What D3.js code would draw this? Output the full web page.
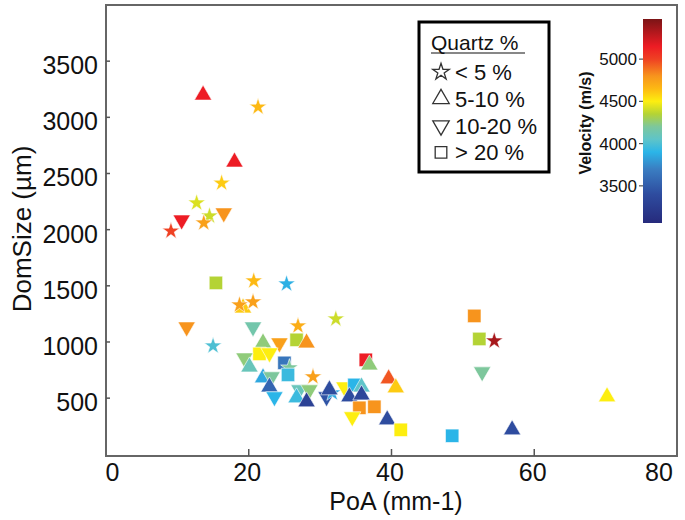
<!DOCTYPE html>
<html>
<head>
<meta charset="utf-8">
<script src="https://cdn.jsdelivr.net/npm/d3@7"></script>
<style>
body { margin: 0; background: #fff; }
text { font-family: "Liberation Sans", Arial, sans-serif; fill: #111; }
</style>
</head>
<body>
<svg id="chart" width="685" height="520"></svg>
<script>
// values
const poa = [13.6, 21.3, 18.0, 16.2, 12.7, 10.6, 14.5, 16.5, 13.7, 9.1,
    15.4, 20.7, 25.3, 19.2, 18.7, 20.6, 11.3, 20.6, 15.0, 26.9,
    22.0, 24.3, 26.7, 28.1, 32.2, 21.5, 22.9, 19.4, 20.1, 25.0,
    25.7, 25.5, 22.0, 23.2, 22.9, 23.6, 29.0, 27.1, 28.5, 26.7,
    28.1, 30.9, 31.7, 31.3, 33.4, 34.8, 35.8, 34.1, 35.8, 35.5,
    37.6, 34.5, 36.4, 36.9, 39.6, 40.6, 39.4, 41.3, 51.6, 52.3,
    54.4, 52.7, 70.2, 56.9, 48.5];
const domSize = [3198, 3092, 2602, 2415, 2238, 2086, 2122, 2149, 2060, 1988,
    1526, 1544, 1517, 1303, 1330, 1357, 1134, 1134, 965, 1143,
    992, 992, 1019, 992, 1205, 894, 903, 858, 778, 814,
    770, 707, 681, 690, 600, 512, 690, 574, 574, 503,
    467, 512, 547, 574, 600, 618, 600, 512, 529, 414,
    423, 334, 841, 796, 672, 592, 307, 218, 1232, 1027,
    1010, 734, 512, 218, 165];
const velocity = [5150, 4650, 5150, 4600, 4430, 5150, 4400, 4800, 4750, 5000,
    4350, 4650, 3880, 4600, 4750, 4750, 4800, 4150, 4000, 4700,
    4250, 4750, 4350, 4800, 4400, 4500, 4500, 4250, 4100, 3650,
    4200, 3950, 3850, 4200, 3550, 3900, 4750, 4100, 4250, 3950,
    3300, 3450, 3850, 3400, 4500, 3900, 4050, 3400, 3350, 4800,
    4800, 4500, 5150, 4250, 4950, 4600, 3400, 4500, 4800, 4350,
    5350, 4200, 4500, 3400, 3900];
const quartz = ['up', 'star', 'up', 'star', 'star', 'down', 'star', 'down', 'star', 'star',
    'square', 'star', 'star', 'up', 'star', 'star', 'down', 'down', 'star', 'star',
    'up', 'down', 'square', 'up', 'star', 'square', 'down', 'down', 'up', 'square',
    'star', 'square', 'up', 'down', 'up', 'down', 'star', 'down', 'down', 'up',
    'up', 'down', 'star', 'up', 'down', 'square', 'up', 'up', 'up', 'square',
    'square', 'down', 'square', 'up', 'up', 'up', 'up', 'square', 'square', 'square',
    'star', 'down', 'up', 'up', 'square'];

const xTicks = [0, 20, 40, 60, 80];
const yTicks = [500, 1000, 1500, 2000, 2500, 3000, 3500];
const vTicks = [3500, 4000, 4500, 5000];
const legendShapes = ['star', 'up', 'down', 'square'];
const legendLabels = ['< 5 %', '5-10 %', '10-20 %', '> 20 %'];

const colorStops = [3060, 3400, 3700, 3900, 4050, 4200, 4350, 4500, 4650, 4800, 5000, 5150, 5475];
const colorValues = ['#262a7c', '#2e4c9f', '#3a7ec2', '#2bb5e8', '#5ec4c9', '#7dc79c', '#b4d335',
    '#fdee10', '#fdb913', '#f7941d', '#ef4123', '#ed1c24', '#7b1416'];

const svg = d3.select('#chart');
const margin = { left: 106, right: 677, top: 5, bottom: 456 };

const xScale = d3.scaleLinear().domain([0, 80]).range([margin.left, margin.right]);
const yScale = d3.scaleLinear().domain([-15, 4000]).range([margin.bottom, margin.top]);
const colorScale = d3.scaleLinear().domain(colorStops).range(colorValues).clamp(true);

const symbolSize = { star: 95, up: 130, down: 130, square: 180 };
const symbolType = { star: d3.symbolStar, up: d3.symbolTriangle, down: d3.symbolTriangle, square: d3.symbolSquare };

function markerPath(shape, scale) {
    return d3.symbol().type(symbolType[shape]).size(symbolSize[shape] * (scale || 1))();
}

// frame
svg.append('rect')
    .attr('x', margin.left).attr('y', margin.top)
    .attr('width', margin.right - margin.left).attr('height', margin.bottom - margin.top)
    .attr('fill', 'none').attr('stroke', '#666').attr('stroke-width', 2);

// x axis ticks (inward)
const xAxis = svg.append('g').attr('class', 'x axis');
xAxis.selectAll('line')
    .data(xTicks.slice(1, -1))
    .enter().append('line')
    .attr('x1', d => xScale(d)).attr('x2', d => xScale(d))
    .attr('y1', margin.bottom).attr('y2', margin.bottom - 7)
    .attr('stroke', '#555').attr('stroke-width', 1.5);
xAxis.selectAll('text')
    .data(xTicks)
    .enter().append('text')
    .text(d => d)
    .attr('x', d => xScale(d) + (d === 0 ? 6.5 : d === 80 ? -18 : -1.5))
    .attr('y', 481)
    .attr('text-anchor', 'middle')
    .attr('font-size', 25);

// y axis ticks (inward)
const yAxis = svg.append('g').attr('class', 'y axis');
yAxis.selectAll('line')
    .data(yTicks)
    .enter().append('line')
    .attr('x1', margin.left).attr('x2', margin.left + 4)
    .attr('y1', d => yScale(d)).attr('y2', d => yScale(d))
    .attr('stroke', '#555').attr('stroke-width', 1.5);
yAxis.selectAll('text')
    .data(yTicks)
    .enter().append('text')
    .text(d => d)
    .attr('x', 98)
    .attr('y', d => yScale(d) + 13)
    .attr('text-anchor', 'end')
    .attr('font-size', 25);

// axis titles
svg.append('text')
    .text('PoA (mm-1)')
    .attr('x', 396).attr('y', 510)
    .attr('text-anchor', 'middle')
    .attr('font-size', 25);
svg.append('text')
    .text('DomSize (µm)')
    .attr('transform', 'translate(31,229) rotate(-90)')
    .attr('text-anchor', 'middle')
    .attr('font-size', 26);

// scatter
svg.append('g').attr('class', 'circles')
    .selectAll('path')
    .data(d3.range(poa.length))
    .enter().append('path')
    .attr('d', i => markerPath(quartz[i]))
    .attr('transform', i => 'translate(' + xScale(poa[i]) + ',' + yScale(domSize[i]) + ')' + (quartz[i] === 'down' ? ' rotate(180)' : ''))
    .attr('fill', i => colorScale(velocity[i]))
    .attr('stroke', 'white')
    .attr('stroke-width', 0.6);

// shape legend
const legend = svg.append('g').attr('class', 'legend');
legend.append('rect')
    .attr('x', 419).attr('y', 22).attr('width', 130).attr('height', 150)
    .attr('fill', 'white').attr('stroke', 'black').attr('stroke-width', 3);
legend.append('text')
    .text('Quartz %')
    .attr('x', 431).attr('y', 50)
    .attr('font-size', 21);
legend.append('line')
    .attr('x1', 431).attr('x2', 525).attr('y1', 53).attr('y2', 53)
    .attr('stroke', '#111').attr('stroke-width', 1.2);
const items = legend.selectAll('g.item')
    .data(legendShapes)
    .enter().append('g').attr('class', 'item')
    .attr('transform', (d, i) => 'translate(441,' + (72 + i * 26.8) + ')');
items.append('path')
    .attr('d', d => markerPath(d, d === 'square' ? 0.75 : 0.9))
    .attr('transform', d => d === 'down' ? 'rotate(180)' : null)
    .attr('fill', 'none').attr('stroke', '#333').attr('stroke-width', 1.3);
items.append('text')
    .text((d, i) => legendLabels[i])
    .attr('x', 14).attr('y', 8)
    .attr('font-size', 22);

// colour bar
const vScale = d3.scaleLinear().domain([3060, 5475]).range([223, 19]);
const grad = svg.append('defs').append('linearGradient')
    .attr('id', 'vgrad').attr('x1', 0).attr('x2', 0).attr('y1', 1).attr('y2', 0);
grad.selectAll('stop')
    .data(colorStops)
    .enter().append('stop')
    .attr('offset', d => (d - 3060) / (5475 - 3060))
    .attr('stop-color', d => colorScale(d));
svg.append('rect')
    .attr('x', 643).attr('y', 19).attr('width', 19).attr('height', 204)
    .attr('fill', 'url(#vgrad)');
const cbar = svg.append('g').attr('class', 'cbar');
cbar.selectAll('line')
    .data(vTicks)
    .enter().append('line')
    .attr('x1', 639).attr('x2', 643)
    .attr('y1', d => vScale(d)).attr('y2', d => vScale(d))
    .attr('stroke', '#555').attr('stroke-width', 1.2);
cbar.selectAll('text')
    .data(vTicks)
    .enter().append('text')
    .text(d => d)
    .attr('x', 637)
    .attr('y', d => vScale(d) + 6)
    .attr('text-anchor', 'end')
    .attr('font-size', 17);
svg.append('text')
    .text('Velocity (m/s)')
    .attr('transform', 'translate(591,123) rotate(-90)')
    .attr('text-anchor', 'middle')
    .attr('font-size', 16)
    .attr('font-weight', 'bold');
</script>
</body>
</html>
